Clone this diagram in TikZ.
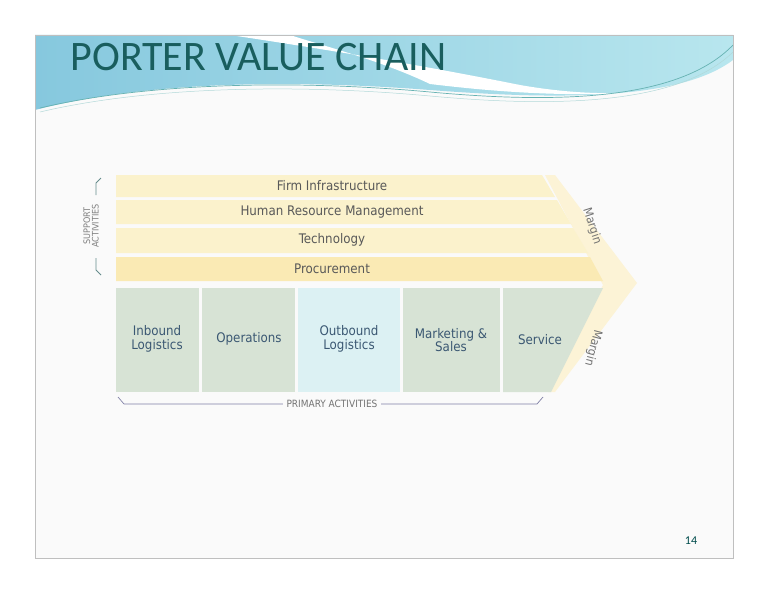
\documentclass[tikz,border=0pt]{standalone}
\usepackage{fontspec}
\setmainfont{Carlito}
\newfontfamily\vfont{DejaVu Sans Condensed}
\begin{document}
\begin{tikzpicture}[x=1pt,y=-1pt,
  bartxt/.style={text=black!65,font=\vfont\fontsize{13.2}{15}\selectfont},
  primtxt/.style={text=primT,align=center,font=\vfont\fontsize{13.2}{13.5}\selectfont},
  marg/.style={text=black!55,font=\vfont\fontsize{12}{12}\selectfont}]
\definecolor{barY}{HTML}{FBF2CC}
\definecolor{barP}{HTML}{FAEAB4}
\definecolor{primG}{HTML}{D7E3D5}
\definecolor{primC}{HTML}{DCF1F3}
\definecolor{margY}{HTML}{FCF3D6}
\definecolor{hdA}{HTML}{86C8DE}
\definecolor{hdB}{HTML}{B8E6EE}
\definecolor{primT}{HTML}{3B5873}
\useasboundingbox (0,0) rectangle (768,594);
\fill[white] (0,0) rectangle (768,594);
\fill[black!2] (35,35) rectangle (733,558);
% header
\shade[left color=hdA, right color=hdB] (35,35) -- (733,35) -- (733,60)
  .. controls (680,100) and (560,100) .. (430,90) .. controls (300,80) and (150,80) .. (35,110) -- cycle;
\fill[white] (230,35) .. controls (330,50) and (420,65) .. (520,85) .. controls (560,92) and (600,95) .. (640,92)
  .. controls (560,98) and (480,90) .. (430,84) .. controls (380,60) and (320,45) .. (290,35) -- cycle;
\draw[teal!60,line width=0.7pt] (40,108) .. controls (150,82) and (300,80) .. (430,92) .. controls (560,104) and (680,100) .. (733,45);
\draw[white!70!teal,line width=0.5pt] (40,112) .. controls (150,86) and (300,84) .. (430,96) .. controls (560,108) and (680,104) .. (733,52);
\draw[black!25] (35,35) rectangle (733,558);
\node[anchor=west,text=teal!60!black!90,font=\fontsize{42}{44}\selectfont] (title) at (67,57) {PORTER VALUE CHAIN};
% margin chevron
\fill[margY] (545,175) -- (555,175) -- (637,283) -- (555,392) -- (548,392) -- (603,285) -- cycle;
% support bars
\fill[barY] (116,175) -- (542,175) -- (555,197) -- (116,197) -- cycle;
\fill[barY] (116,200) -- (557,200) -- (571,224) -- (116,224) -- cycle;
\fill[barY] (116,228) -- (573,228) -- (588,253) -- (116,253) -- cycle;
\fill[barP] (116,257) -- (590,257) -- (603,281) -- (116,281) -- cycle;
\node[bartxt] (fi) at (332,186) {Firm Infrastructure};
\node[bartxt] (hr) at (332,212) {Human Resource Management};
\node[bartxt] (te) at (332,240) {Technology};
\node[bartxt] (pr) at (332,269) {Procurement};
% primary
\fill[primG] (116,288) rectangle (199,392);
\fill[primG] (202,288) rectangle (295,392);
\fill[primC] (298,288) rectangle (400,392);
\fill[primG] (403,288) rectangle (500,392);
\fill[primG] (503,288) -- (603,288) -- (551,392) -- (503,392) -- cycle;
\node[primtxt] (ib) at (157,339) {Inbound\\Logistics};
\node[primtxt] (op) at (249,339) {Operations};
\node[primtxt] (ob) at (349,339) {Outbound\\Logistics};
\node[primtxt] (ms) at (451,340) {Marketing \&\\Sales};
\node[primtxt] (sv) at (540,340) {Service};
\node[marg,rotate=-72,inner sep=0pt] (m1) at (592,226) {Margin};
\node[marg,rotate=-105,inner sep=0pt] (m2) at (593,348) {Margin};
% brackets
\draw[teal!50!black!60,line width=0.8pt] (101,178) -- (96,183) -- (96,195);
\draw[teal!50!black!60,line width=0.8pt] (96,258) -- (96,270) -- (101,275);
\node[rotate=90,align=center,text=black!50,font=\vfont\fontsize{9}{8.5}\selectfont] (sa) at (91,226) {SUPPORT\\ACTIVITIES};
\coordinate (bl) at (118,397);
\coordinate (br) at (543,397);
\node[text=black!55,font=\vfont\fontsize{10}{10}\selectfont] (pa) at (332,404) {PRIMARY ACTIVITIES};
\draw[blue!30!black!50,line width=0.7pt] (bl) -- ++(6,7) -- (pa.west);
\draw[blue!30!black!50,line width=0.7pt] (br) -- ++(-6,7) -- (pa.east);
\node[text=teal!60!black,font=\fontsize{12}{12}\selectfont] (pg) at (691,541) {14};
\end{tikzpicture}
\end{document}
